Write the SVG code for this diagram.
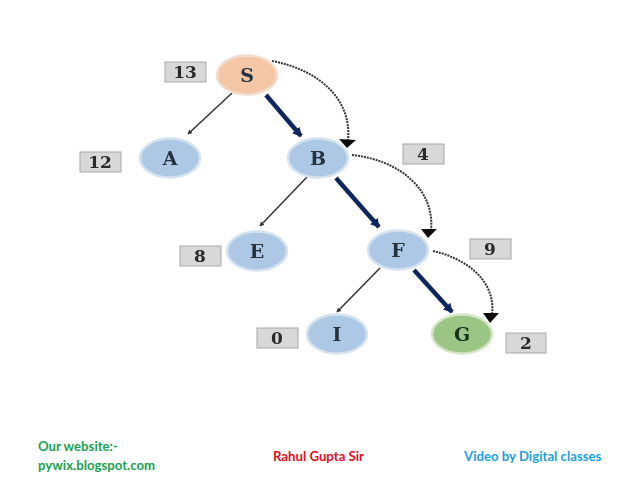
<svg xmlns="http://www.w3.org/2000/svg" width="638" height="478" viewBox="0 0 638 478">
<style>
.n{stroke:#d5e2ef;stroke-width:2.500}
.b{fill:#adc8e5}
.t{font-family:"DejaVu Serif","Liberation Serif",serif;font-size:19px;font-weight:bold;fill:#25303e;text-anchor:middle}
.v{font-family:"DejaVu Serif","Liberation Serif",serif;font-size:17px;fill:#2a2a2a;text-anchor:middle;font-weight:bold}
.r{fill:#d8d8d8;stroke:#a8a8a8;stroke-width:1}
.thin{stroke:#333;stroke-width:1.500;fill:none;marker-end:url(#ms)}
.thick{stroke:#10275f;stroke-width:4.500;fill:none;marker-end:url(#mb)}
.dash{stroke:#333;stroke-width:2;stroke-dasharray:2 1;fill:none}
.f{font-family:"Lato","Noto Sans",sans-serif;font-size:13.200px;font-weight:bold}
</style>
<defs>
<marker id="ms" markerUnits="userSpaceOnUse" markerWidth="6" markerHeight="6" refX="4" refY="2.500" orient="auto"><path d="M0 0L4.500 2.500L0 5z" fill="#333"/></marker>
<marker id="mb" markerUnits="userSpaceOnUse" markerWidth="12" markerHeight="12" refX="8" refY="5" orient="auto"><path d="M0 0L9 5L0 10z" fill="#10275f"/></marker>
<filter id="s" x="-5%" y="-5%" width="110%" height="110%"><feGaussianBlur stdDeviation="0.6"/></filter>
</defs>
<rect width="638" height="478" fill="#fff"/>
<g id="connectors" filter="url(#s)">
<path class="thin" d="M232 93L188 134"/>
<path class="thick" d="M266 95L301 136"/>
<path class="dash" d="M272 61C320 70 352 100 348 140"/>
<path d="M339 139L356 140L347 148z" fill="#111"/>
<path class="thin" d="M307 177L260 226"/>
<path class="thick" d="M336 178L379 227"/>
<path class="dash" d="M352 155C400 160 435 190 431 230"/>
<path d="M421 229L437 229L428 238z" fill="#111"/>
<path class="thin" d="M380 268L337 312"/>
<path class="thick" d="M414 270L452 312"/>
<path class="dash" d="M433 251C465 258 496 280 492 314"/>
<path d="M483 313L499 313L490 323z" fill="#111"/>
</g>
<g id="node-S" filter="url(#s)"><ellipse cx="247" cy="75" rx="30" ry="19.500" fill="#f5c6a5" stroke="#f2dccd" stroke-width="2.500"/><text class="t" x="247" y="82">S</text></g>
<g id="node-A" filter="url(#s)"><ellipse class="n b" cx="170" cy="158" rx="30" ry="19.500"/><text class="t" x="170" y="165">A</text></g>
<g id="node-B" filter="url(#s)"><ellipse class="n b" cx="318" cy="158" rx="30" ry="19.500"/><text class="t" x="318" y="165">B</text></g>
<g id="node-E" filter="url(#s)"><ellipse class="n b" cx="257" cy="251" rx="30" ry="19.500"/><text class="t" x="257" y="258">E</text></g>
<g id="node-F" filter="url(#s)"><ellipse class="n b" cx="398" cy="250" rx="30" ry="19.500"/><text class="t" x="398" y="257">F</text></g>
<g id="node-I" filter="url(#s)"><ellipse class="n b" cx="337" cy="334" rx="30" ry="19.500"/><text class="t" x="337" y="341">I</text></g>
<g id="node-G" filter="url(#s)"><ellipse cx="462" cy="334" rx="30" ry="19.500" fill="#9bc585" stroke="#d5e6c9" stroke-width="2.500"/><text class="t" x="462" y="341" style="fill:#14301a">G</text></g>
<g id="h-S" filter="url(#s)"><rect class="r" x="165" y="62" width="41" height="20"/><text class="v" x="185" y="78">13</text></g>
<g id="h-A" filter="url(#s)"><rect class="r" x="80" y="152" width="41" height="20"/><text class="v" x="100" y="168">12</text></g>
<g id="h-B" filter="url(#s)"><rect class="r" x="403" y="144" width="41" height="20"/><text class="v" x="423" y="160">4</text></g>
<g id="h-F" filter="url(#s)"><rect class="r" x="470" y="239" width="41" height="20"/><text class="v" x="490" y="255">9</text></g>
<g id="h-G" filter="url(#s)"><rect class="r" x="506" y="333" width="40" height="20"/><text class="v" x="526" y="349">2</text></g>
<g id="h-E" filter="url(#s)"><rect class="r" x="180" y="246" width="41" height="20"/><text class="v" x="200" y="262">8</text></g>
<g id="h-I" filter="url(#s)"><rect class="r" x="257" y="328" width="41" height="20"/><text class="v" x="277" y="344">0</text></g>
<text class="f" x="38" y="451" fill="#1aa350">Our website:-</text>
<text class="f" x="38" y="470" fill="#1aa350">pywix.blogspot.com</text>
<text class="f" x="273" y="461" fill="#e0101c">Rahul Gupta Sir</text>
<text class="f" x="464" y="461" fill="#1d9fdc">Video by Digital classes</text>
</svg>
